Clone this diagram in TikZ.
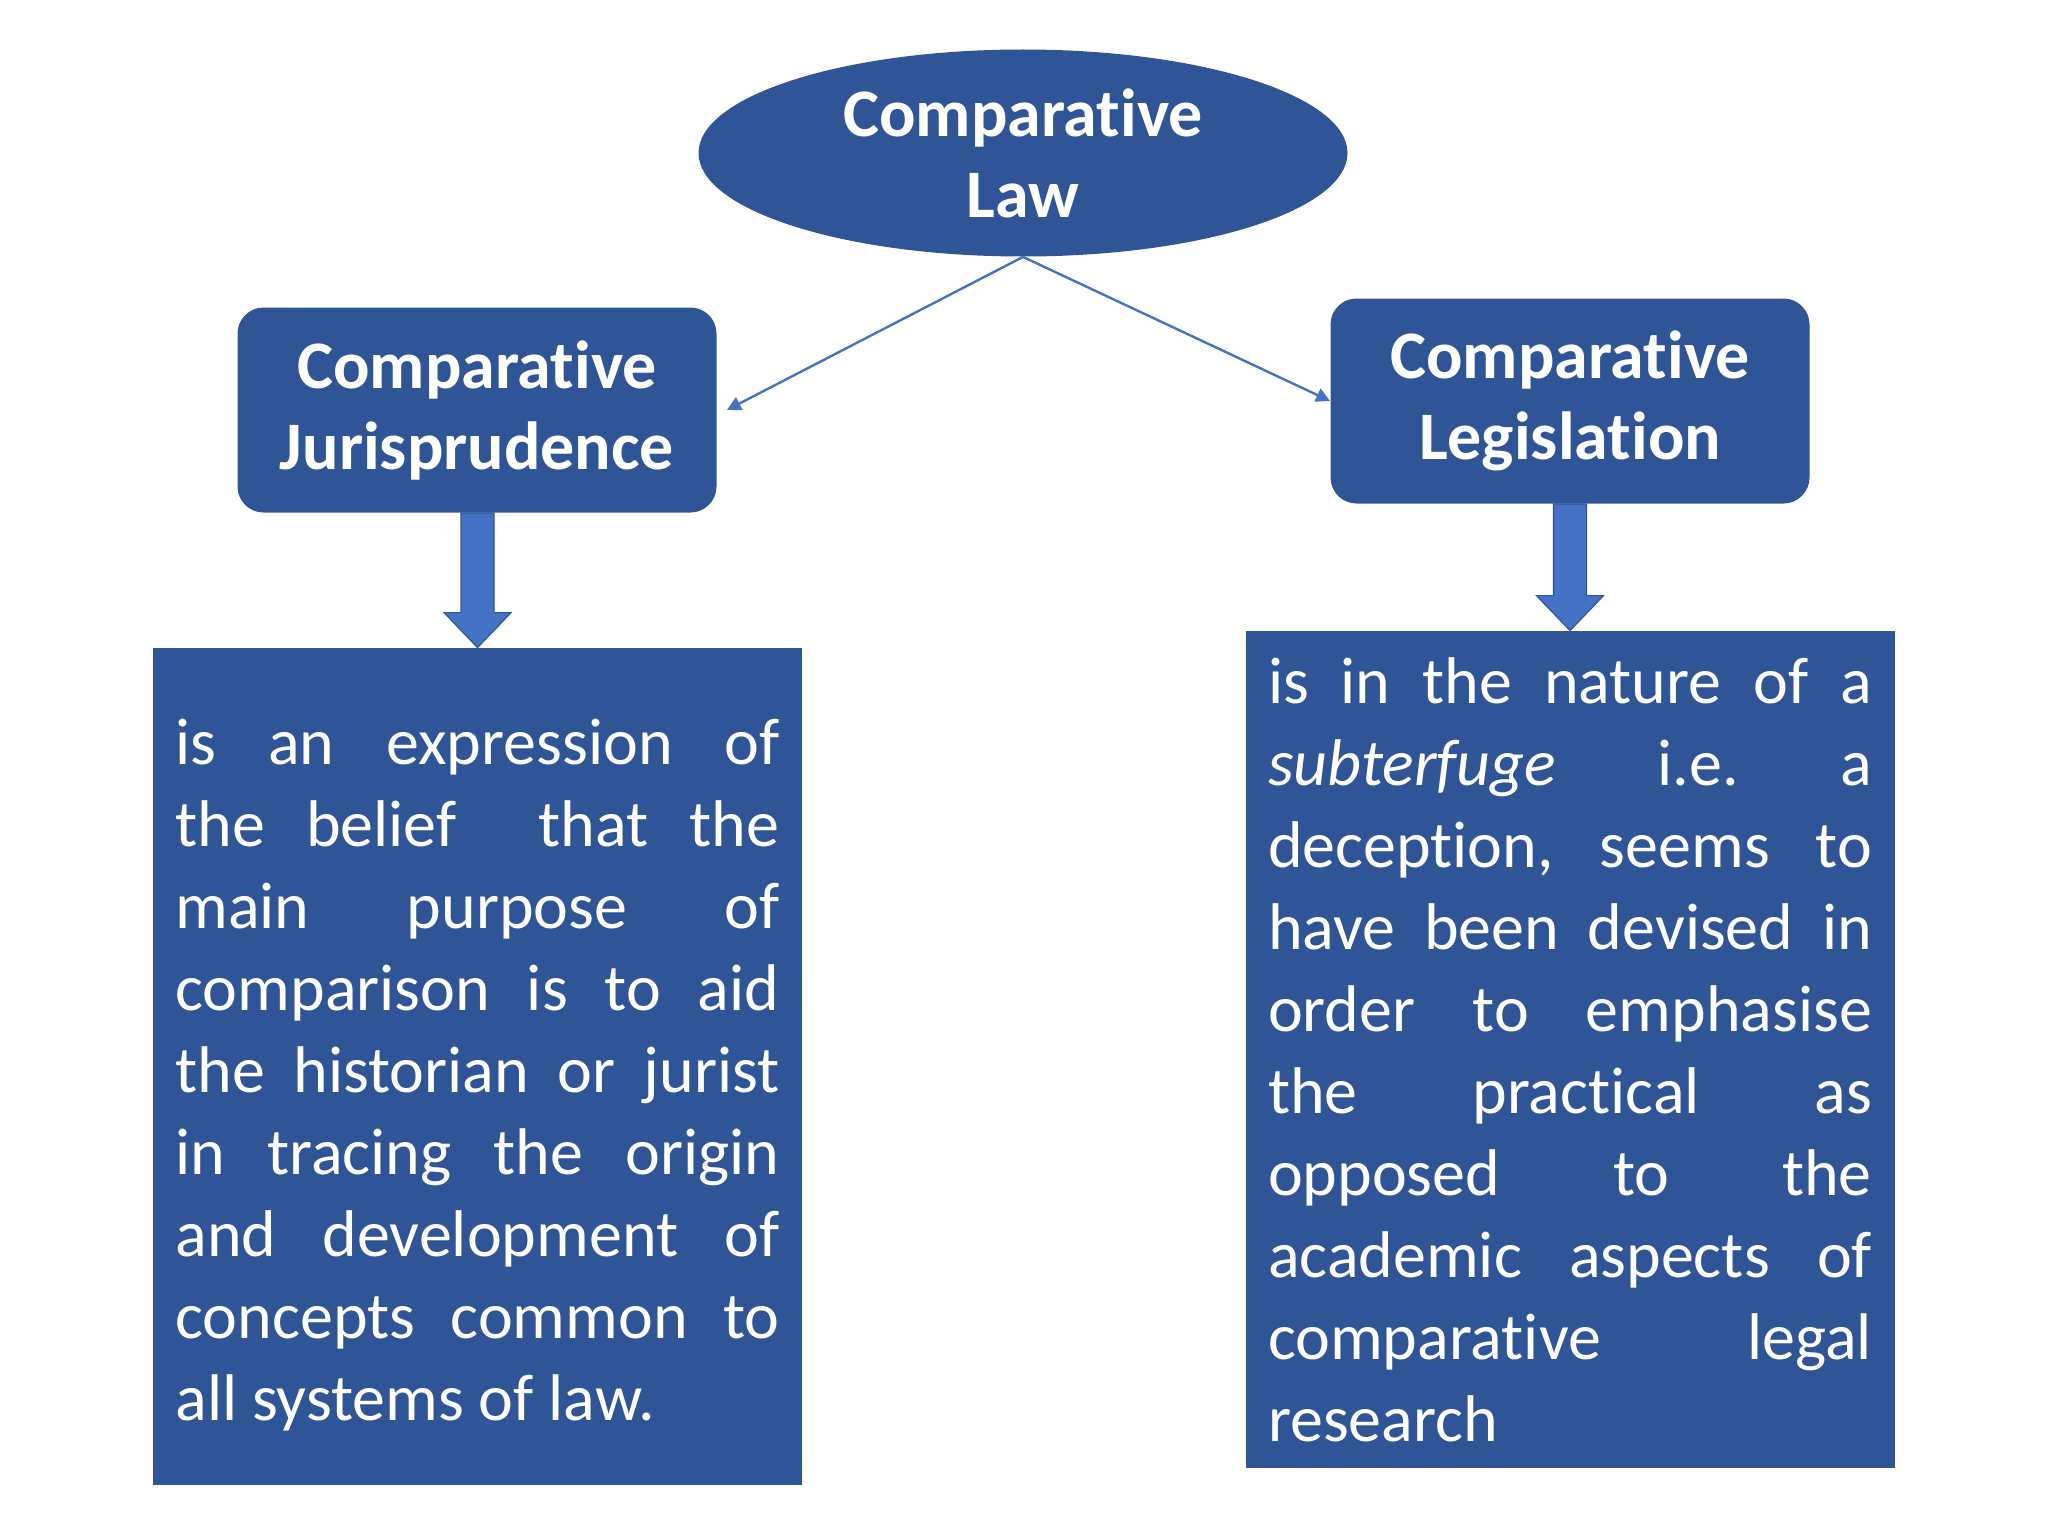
\documentclass[tikz,border=0pt]{standalone}
\usepackage{fontspec}
\setmainfont{Carlito}[RawFeature={-liga}]
\usetikzlibrary{shapes.geometric,arrows.meta}
\definecolor{lawBlue}{HTML}{2F5597}
\definecolor{lawArrowBlue}{HTML}{4472C4}
\newlength\bodytextwidth
\setlength\bodytextwidth{302pt}
\newcommand\jline[1]{{\frenchspacing\spaceskip=0pt\xspaceskip=0pt\makebox[\bodytextwidth][s]{#1}}}

\begin{document}
\begin{tikzpicture}[x=0.5pt, y=-0.5pt,
    headfont/.style={font=\fontsize{34}{40.5}\selectfont\bfseries, text=white, align=center},
    headbox/.style={headfont, fill=lawBlue, rounded corners=13pt, minimum width=239.5pt, minimum height=102.5pt, inner sep=0pt},
    bodybox/.style={fill=lawBlue, text=white, font=\fontsize{33}{41}\selectfont, align=justify, text width=302pt, minimum width=324.5pt, minimum height=418.5pt, inner xsep=11.25pt, inner ysep=0pt},
    thinarrow/.style={lawArrowBlue, line width=1.2pt, -{Triangle[length=7pt,width=7pt]}},
    blockarrow/.style={fill=lawArrowBlue, draw=lawBlue, line width=0.6pt}]
  \useasboundingbox (0,0) rectangle (2048,1536);

  \node[ellipse, fill=lawBlue, minimum width=324.5pt, minimum height=103.5pt, inner sep=0pt, headfont] (law) at (1023,153) {Comparative\\Law};
  \node[headbox] (jur) at (477,410) {Comparative\\Jurisprudence};
  \node[headbox] (leg) at (1570,401) {Comparative\\Legislation};

  \node[bodybox] (jurtext) at (477.5,1066.5) {%
    \rule{0pt}{31pt}\jline{is an expression of}\\
    \jline{the belief\ \ that the}\\
    \jline{main purpose of}\\
    \jline{comparison is to aid}\\
    \jline{the historian or jurist}\\
    \jline{in tracing the origin}\\
    \jline{and development of}\\
    \jline{concepts common to}\\
    all systems of law.};
  \node[bodybox] (legtext) at (1570,1049.5) {%
    \jline{is in the nature of a}\\
    \jline{\textit{subterfuge} i.e. a}\\
    \jline{deception, seems to}\\
    \jline{have been devised in}\\
    \jline{order to emphasise}\\
    \jline{the practical as}\\
    \jline{opposed to the}\\
    \jline{academic aspects of}\\
    \jline{comparative legal}\\
    research};

  % thin connectors from the top
  \draw[thinarrow] (law.south) -- ([xshift=5pt]jur.east);
  \draw[thinarrow] (law.south) -- (leg.west);

  % block arrows down to the text boxes
  \draw[blockarrow] ([xshift=-8.25pt]jurtext.north |- jur.south) -- ([xshift=-8.25pt,yshift=17.5pt]jurtext.north)
    -- ([xshift=-16.75pt,yshift=17.5pt]jurtext.north) -- (jurtext.north) -- ([xshift=16.75pt,yshift=17.5pt]jurtext.north)
    -- ([xshift=8.25pt,yshift=17.5pt]jurtext.north) -- ([xshift=8.25pt]jurtext.north |- jur.south) -- cycle;
  \draw[blockarrow] ([xshift=-8.25pt]legtext.north |- leg.south) -- ([xshift=-8.25pt,yshift=17.5pt]legtext.north)
    -- ([xshift=-16.75pt,yshift=17.5pt]legtext.north) -- (legtext.north) -- ([xshift=16.75pt,yshift=17.5pt]legtext.north)
    -- ([xshift=8.25pt,yshift=17.5pt]legtext.north) -- ([xshift=8.25pt]legtext.north |- leg.south) -- cycle;
\end{tikzpicture}
\end{document}
